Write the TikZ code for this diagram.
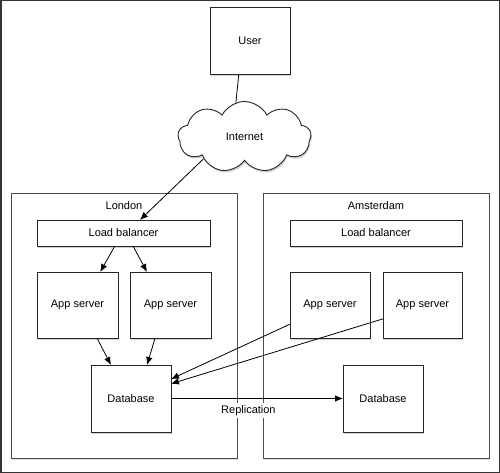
\documentclass[tikz,border=0pt]{standalone}
\usepackage{fontspec}
\setmainfont{Liberation Sans}
\usetikzlibrary{shapes.symbols,shadows,arrows.meta,calc}
\begin{document}
\begin{tikzpicture}[x=1pt,y=-1pt,
  font=\fontsize{11}{13}\selectfont,
  box/.style={draw=black!85,line width=0.9pt,fill=white,inner sep=0pt,outer sep=0pt,
     drop shadow={shadow xshift=1pt,shadow yshift=-2pt,opacity=0.3,fill=black!60}},
  region/.style={draw=black!70,line width=0.9pt,fill=white,inner sep=0pt,outer sep=0pt,
     drop shadow={shadow xshift=1pt,shadow yshift=-2pt,opacity=0.2,fill=black!60}},
  conn/.style={draw=black,line width=0.8pt},
  arr/.style={conn,-{Latex[length=8pt,width=6.5pt]}}]
\useasboundingbox (0,0) rectangle (500,473);
\draw[black!80,line width=1.5pt] (0.75,0.75) rectangle (499.25,472.25);
% regions
\node[region,minimum width=226pt,minimum height=265pt] (london) at (124,325.5) {};
\node[below=5pt] (londonlbl) at (london.north) {London};
\node[region,minimum width=226pt,minimum height=265pt] (amsterdam) at (376,325.5) {};
\node[below=5pt] (amsterdamlbl) at (amsterdam.north) {Amsterdam};
% top
\node[box,minimum width=80pt,minimum height=67pt] (user) at (250,40.5) {User};
\node[cloud,draw=black!85,line width=0.9pt,fill=white,cloud puffs=9,cloud puff arc=125,aspect=2.0,
  inner sep=0pt,minimum width=133pt,minimum height=71pt,
  drop shadow={shadow xshift=1pt,shadow yshift=-2pt,opacity=0.3,fill=black!60}] (inet) at (244.5,137) {Internet};
% London
\node[box,minimum width=173pt,minimum height=26pt] (lbL) at (123.5,233) {Load balancer};
\node[box,minimum width=81pt,minimum height=66pt] (aL1) at (77.5,305) {App server};
\node[box,minimum width=81pt,minimum height=66pt] (aL2) at (170.5,305) {App server};
\node[box,minimum width=80pt,minimum height=67pt] (dbL) at (131,398.5) {Database};
% Amsterdam
\node[box,minimum width=172pt,minimum height=26pt] (lbA) at (376,233) {Load balancer};
\node[box,minimum width=80pt,minimum height=66pt] (aA1) at (330,305) {App server};
\node[box,minimum width=79pt,minimum height=66pt] (aA2) at (422.5,305) {App server};
\node[box,minimum width=80pt,minimum height=67pt] (dbA) at (383,398.5) {Database};
% connectors
\draw[conn] ($(user.south west)!0.36!(user.south east)$) -- (inet.104);
\draw[arr] (inet.208) -- ($(lbL.north west)!0.595!(lbL.north east)$);
\draw[arr] ($(lbL.south west)!0.45!(lbL.south east)$) -- ($(aL1.north west)!0.78!(aL1.north east)$);
\draw[arr] ($(lbL.south west)!0.555!(lbL.south east)$) -- ($(aL2.north west)!0.21!(aL2.north east)$);
\draw[arr] ($(aL1.south west)!0.74!(aL1.south east)$) -- ($(dbL.north west)!0.25!(dbL.north east)$);
\draw[arr] ($(aL2.south west)!0.31!(aL2.south east)$) -- ($(dbL.north west)!0.70!(dbL.north east)$);
\draw[arr] ($(aA1.north west)!0.79!(aA1.south west)$) -- ($(dbL.north east)!0.21!(dbL.south east)$);
\draw[arr] ($(aA2.north west)!0.71!(aA2.south west)$) -- ($(dbL.north east)!0.28!(dbL.south east)$);
\draw[arr] (dbL.east) -- node[pos=0.45,below=4.5pt,fill=white,inner sep=2pt] (repl) {Replication} (dbA.west);
\end{tikzpicture}
\end{document}
